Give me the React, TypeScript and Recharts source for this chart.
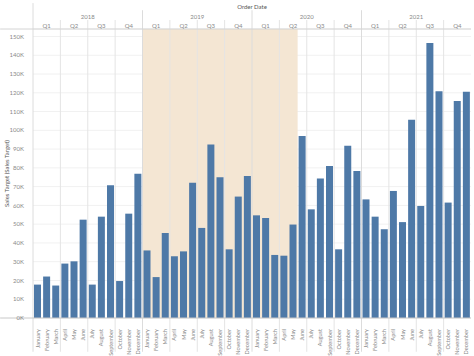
import { BarChart, Bar, XAxis, YAxis, CartesianGrid, ReferenceArea, ReferenceLine } from 'recharts';

const months = [
  'January', 'February', 'March', 'April', 'May', 'June',
  'July', 'August', 'September', 'October', 'November', 'December',
];
const years = ['2018', '2019', '2020', '2021'];
const quarters = ['Q1', 'Q2', 'Q3', 'Q4'];

// Sales Target in thousands, one value per month
const sales2018 = [17.8, 22.1, 17.3, 29.0, 30.2, 52.4, 17.8, 54.0, 70.7, 19.7, 55.6, 76.9];
const sales2019 = [36.0, 21.8, 45.3, 32.9, 35.5, 72.1, 48.0, 92.5, 75.0, 36.6, 64.7, 75.7];
const sales2020 = [54.7, 53.3, 33.6, 33.2, 49.8, 97.0, 57.9, 74.4, 81.0, 36.6, 91.8, 78.3];
const sales2021 = [63.2, 54.0, 47.3, 67.7, 51.1, 105.7, 59.7, 146.5, 120.8, 61.5, 115.6, 120.6];
const salesByYear = [sales2018, sales2019, sales2020, sales2021];

const yTicks = [0, 10, 20, 30, 40, 50, 60, 70, 80, 90, 100, 110, 120, 130, 140, 150];

// highlighted months: January 2019 .. May 2020
const highlightFrom = 12;
const highlightTo = 28;

const data = years.flatMap((year, yi) =>
  salesByYear[yi].map((sales, mi) => ({ idx: yi * 12 + mi, month: months[mi], year, sales }))
);

const monthTicks = data.map((d) => d.idx);
const quarterCenters = Array.from({ length: 16 }, (_, i) => i * 3 + 1);
const yearCenters = years.map((_, i) => i * 12 + 5.5);
const quarterLines = Array.from({ length: 15 }, (_, i) => (i + 1) * 3 - 0.5).filter((v) => (v + 0.5) % 12 !== 0);
const yearLines = [11.5, 23.5, 35.5];

const textColor = '#8a8a8a';
const gridColor = '#e4e4e4';

const MonthTick = ({ x, y, payload }: any) => (
  <text
    x={x}
    y={y + 3}
    transform={`rotate(-90, ${x}, ${y + 3})`}
    textAnchor="end"
    dy="0.35em"
    fontSize={5.6}
    fill={textColor}
  >
    {months[payload.value % 12]}
  </text>
);

export default function App() {
  return (
    <div style={{ position: 'absolute', left: 0, top: 0, background: '#fff' }}>
      <BarChart
        width={474}
        height={356}
        data={data}
        margin={{ top: 10, right: 3, bottom: 0, left: 0 }}
        style={{ fontFamily: 'Lato, sans-serif' }}
      >
        <CartesianGrid horizontal vertical={false} stroke="#f1f1f1" xAxisId="m" />
        <ReferenceArea
          xAxisId="m"
          x1={highlightFrom - 0.5}
          x2={highlightTo + 0.5}
          y1={0}
          y2={154}
          fill="#f4e6d3"
          fillOpacity={1}
          stroke="none"
        />
        {quarterLines.map((q) => (
          <ReferenceLine
            key={`q-${q}`}
            xAxisId="m"
            segment={[{ x: q, y: -18 }, { x: q, y: 158.8 }]}
            ifOverflow="visible"
            stroke={gridColor}
          />
        ))}
        {yearLines.map((q) => (
          <ReferenceLine
            key={`y-${q}`}
            xAxisId="m"
            segment={[{ x: q, y: -18 }, { x: q, y: 164 }]}
            ifOverflow="visible"
            stroke="#dcdcdc"
          />
        ))}
        <ReferenceLine
          xAxisId="m"
          segment={[{ x: -0.5, y: -18 }, { x: -0.5, y: 167.8 }]}
          ifOverflow="visible"
          stroke="#dcdcdc"
        />
        <ReferenceLine
          xAxisId="m"
          segment={[{ x: -4.1, y: 154 }, { x: 47.5, y: 154 }]}
          ifOverflow="visible"
          stroke="#d4d4d4"
        />
        <XAxis
          xAxisId="m"
          dataKey="idx"
          type="number"
          domain={[-0.5, 47.5]}
          ticks={monthTicks}
          interval={0}
          height={38}
          tick={<MonthTick />}
          tickLine={false}
          axisLine={false}
        />
        <XAxis
          xAxisId="q"
          orientation="top"
          dataKey="idx"
          type="number"
          domain={[-0.5, 47.5]}
          ticks={quarterCenters}
          interval={0}
          height={9}
          tickSize={0}
          tickMargin={1.5}
          tickLine={false}
          axisLine={false}
          tick={{ fontSize: 6, fill: textColor }}
          tickFormatter={(v: number) => quarters[Math.round((v - 1) / 3) % 4]}
        />
        <XAxis
          xAxisId="y"
          orientation="top"
          dataKey="idx"
          type="number"
          domain={[-0.5, 47.5]}
          ticks={yearCenters}
          interval={0}
          height={10}
          tickSize={0}
          tickMargin={1.5}
          tickLine={false}
          axisLine={false}
          tick={{ fontSize: 6, fill: textColor }}
          tickFormatter={(v: number) => years[Math.floor(v / 12)]}
          label={{ value: 'Order Date', position: 'top', offset: 1, fontSize: 6, fill: '#555' }}
        />
        <YAxis
          domain={[0, 154]}
          ticks={yTicks}
          interval={0}
          width={33}
          tickLine={false}
          axisLine={false}
          tickMargin={3}
          tick={{ fontSize: 6, fill: textColor }}
          tickFormatter={(v: number) => `${v}K`}
          label={{
            value: 'Sales Target (Sales Target)',
            angle: -90,
            position: 'insideLeft',
            offset: 7,
            fontSize: 6,
            fill: '#555',
            style: { textAnchor: 'middle' },
          }}
        />
        <Bar xAxisId="m" dataKey="sales" fill="#4e79a7" barSize={7} isAnimationActive={false} />
        <ReferenceLine
          xAxisId="m"
          segment={[{ x: -4.1, y: 0 }, { x: 47.5, y: 0 }]}
          ifOverflow="visible"
          stroke="#c8c8c8"
        />
      </BarChart>
    </div>
  );
}
